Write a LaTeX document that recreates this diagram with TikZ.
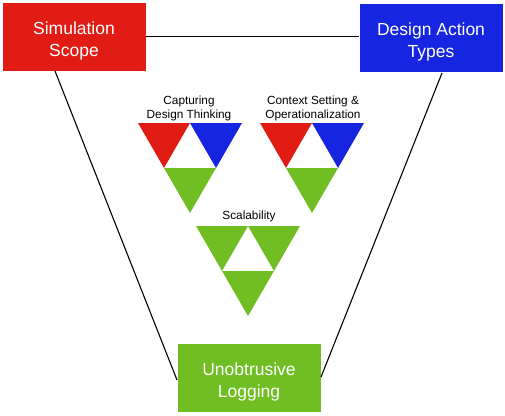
\documentclass[tikz,border=0pt]{standalone}
\usepackage{fontspec}
\setmainfont{Liberation Sans}
\definecolor{cred}{RGB}{224,28,20}
\definecolor{cblue}{RGB}{22,38,224}
\definecolor{cgreen}{RGB}{112,190,36}
\newcommand\triad[5]{%
  \fill[#3] (#1,#2) -- (#1+52,#2) -- (#1+26,#2+45) -- cycle;
  \fill[#4] (#1+52,#2) -- (#1+104,#2) -- (#1+78,#2+45) -- cycle;
  \fill[#5] (#1+26,#2+45) -- (#1+78,#2+45) -- (#1+52,#2+90) -- cycle;
}
\begin{document}
\begin{tikzpicture}[x=1pt,y=-1pt,
  box/.style={draw=white,line width=0.8pt,minimum width=144pt,minimum height=69pt,inner sep=0pt},
  boxtext/.style={text=white,font=\fontsize{17.5}{22}\selectfont,align=center,inner sep=0pt,yshift=-4pt},
  lbl/.style={font=\fontsize{11.8}{14}\selectfont,align=center,inner sep=0pt},
  conn/.style={line width=1.1pt}]
\useasboundingbox (0,0) rectangle (505,415);
\node[box,fill=cred,label={[boxtext]center:Simulation\\Scope}] (sim) at (74,36.5) {};
\node[box,fill=cblue,label={[boxtext]center:Design Action\\Types}] (dat) at (431,38) {};
\node[box,fill=cgreen,label={[boxtext]center:Unobtrusive\\Logging}] (log) at (249,377.5) {};
\coordinate (simb) at (55,71);
\coordinate (datb) at (442,73);
\coordinate (logl) at (177,380);
\coordinate (logr) at (321,377);
\draw[conn] (sim.east) -- (dat.west |- sim.east);
\draw[conn] (simb) -- (logl);
\draw[conn] (datb) -- (logr);
\triad{138}{123}{cred}{cblue}{cgreen}
\triad{260}{123}{cred}{cblue}{cgreen}
\triad{196}{226}{cgreen}{cgreen}{cgreen}
\node[lbl] (cap) at (189,108) {Capturing\\Design Thinking};
\node[lbl] (ctx) at (313,108) {Context Setting \&\\Operationalization};
\node[lbl] (sca) at (249,216) {Scalability};
\end{tikzpicture}
\end{document}
